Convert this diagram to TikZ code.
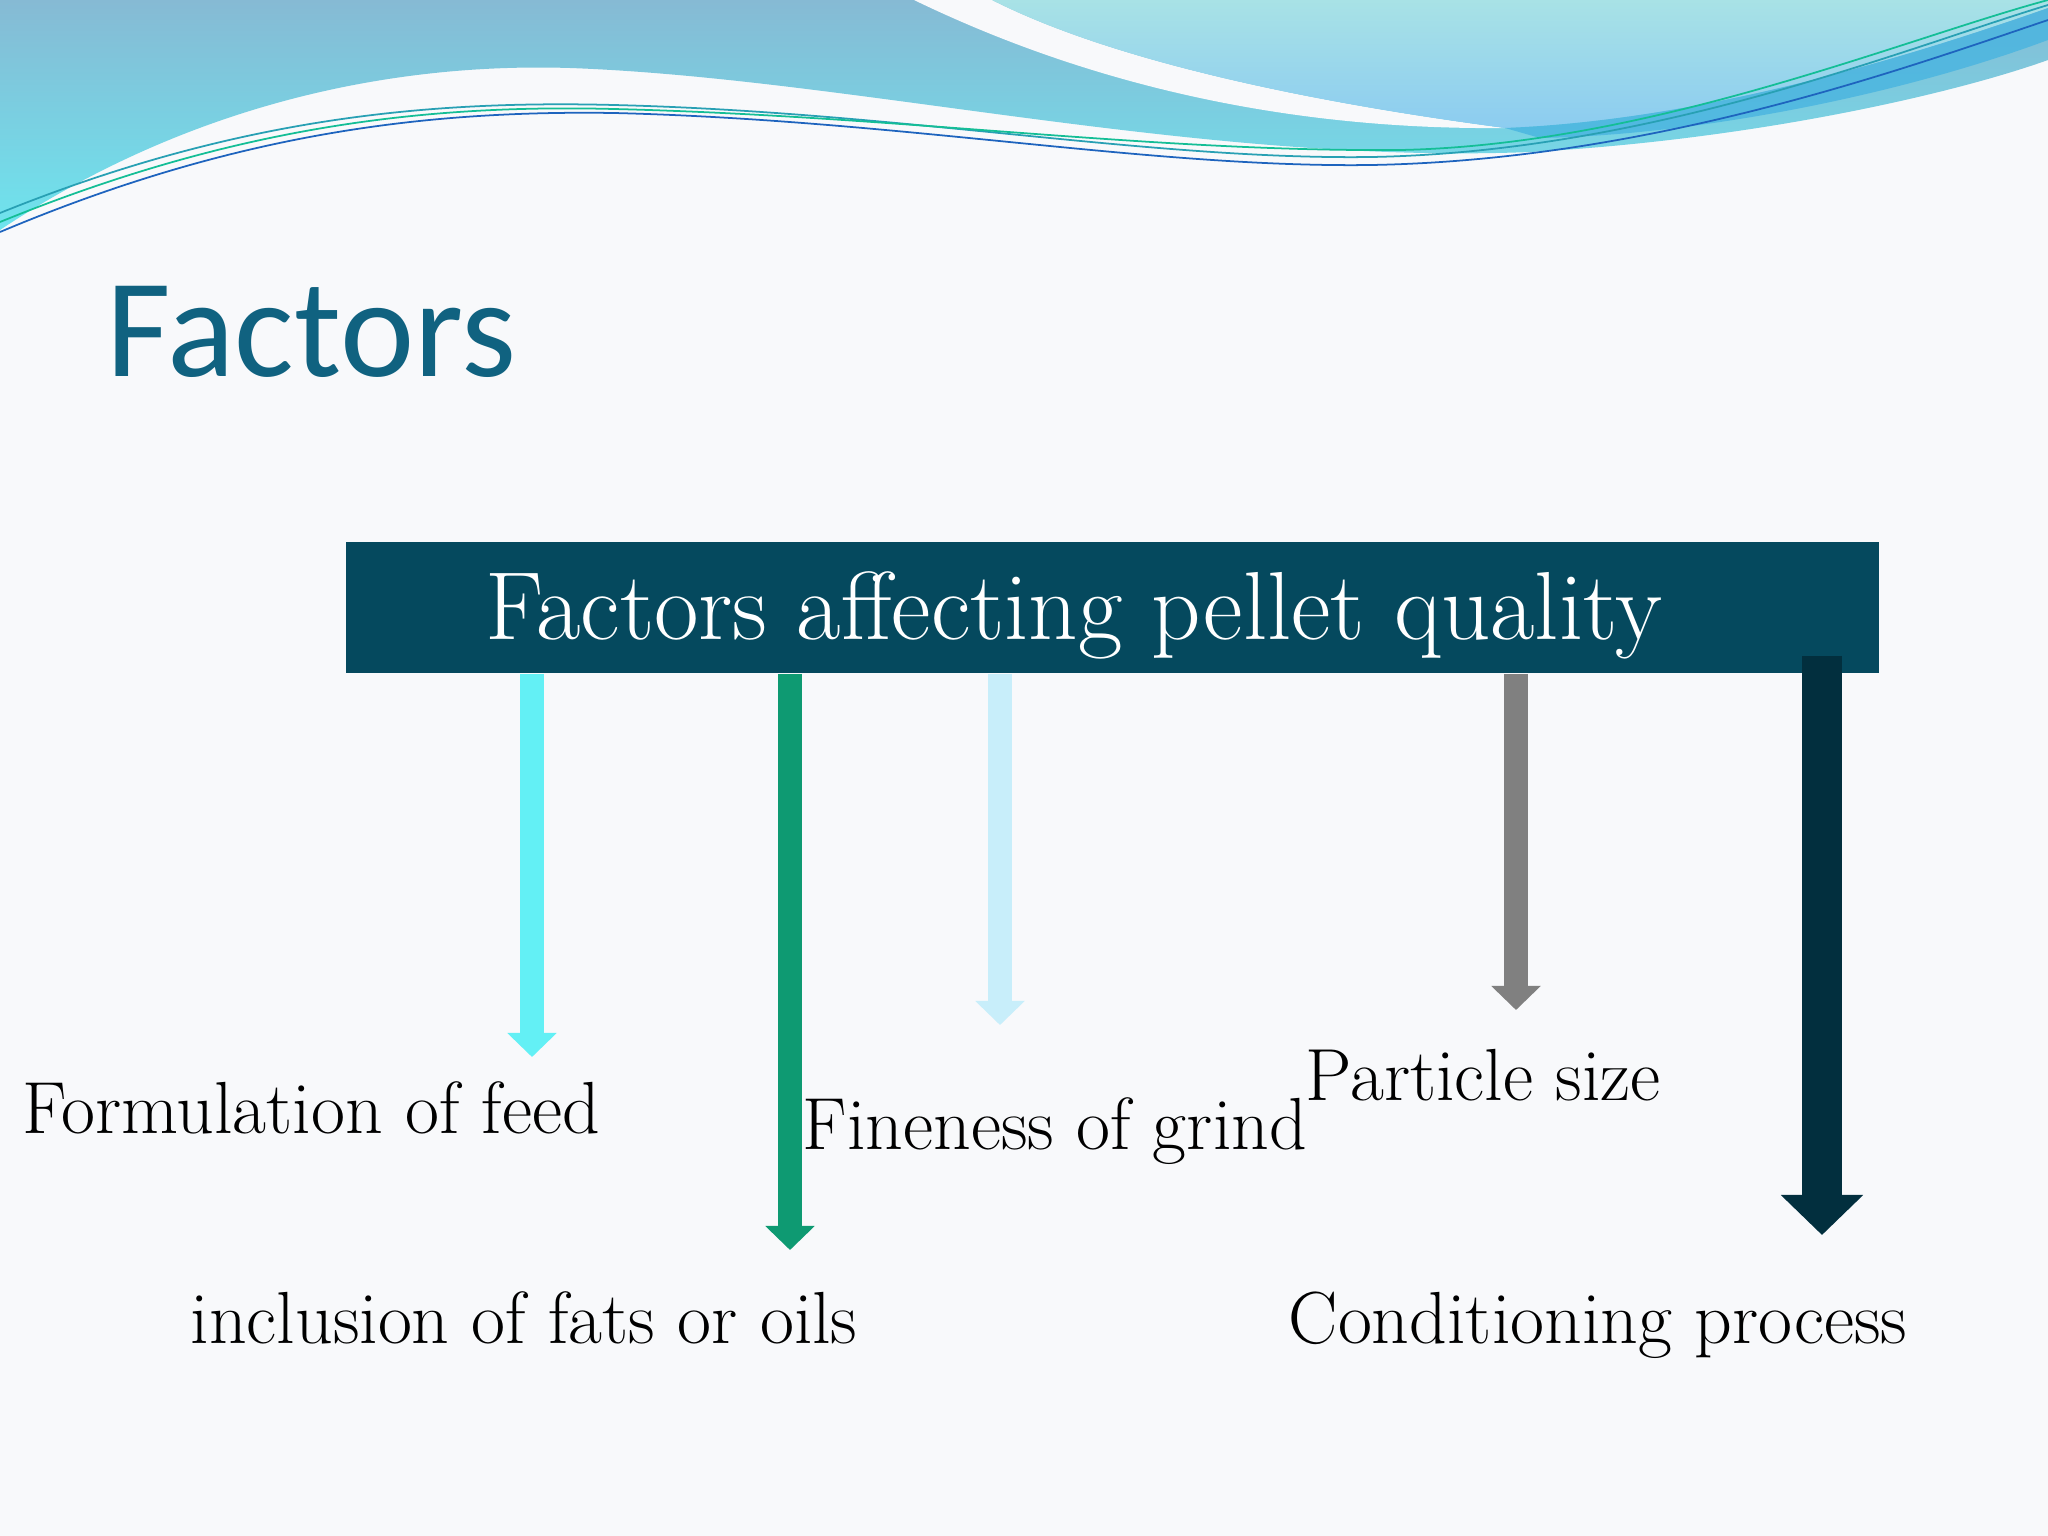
\documentclass[tikz,border=0pt]{standalone}
\usepackage{fontspec}
\newfontfamily\headfont{Carlito}
\usetikzlibrary{arrows.meta,calc,positioning}

\definecolor{slidebg}{RGB}{248,249,251}
\definecolor{headteal}{RGB}{16,98,128}
\definecolor{bannerteal}{RGB}{5,73,94}
\definecolor{feedcyan}{RGB}{99,240,245}
\definecolor{fatgreen}{RGB}{14,154,114}
\definecolor{grindblue}{RGB}{200,238,250}
\definecolor{sizegray}{RGB}{128,128,128}
\definecolor{conddark}{RGB}{2,47,62}
\definecolor{wavetop}{RGB}{134,186,212}
\definecolor{wavebottom}{RGB}{110,228,238}
\definecolor{paletop}{RGB}{168,226,230}
\definecolor{palebottom}{RGB}{140,204,240}
\definecolor{bandblue}{RGB}{72,180,224}
\definecolor{wireteal}{RGB}{40,160,180}
\definecolor{wireblue}{RGB}{30,100,190}
\definecolor{wiregreen}{RGB}{20,190,150}

\begin{document}
\begin{tikzpicture}
          [ x=0.01cm, y=-0.01cm,
            banner/.style={
              rectangle,
              fill=bannerteal,
              minimum width=15.32cm,
              minimum height=1.31cm,
              inner sep=0pt},
            leaf/.style={
              anchor=base west,
              inner sep=0pt,
              font=\fontsize{21}{25}\selectfont},
            flow/.style={
              draw,
              line width=6.83pt,
              -{Triangle[width=13.66pt,length=6.83pt]}},
            bigflow/.style={
              draw,
              line width=11.38pt,
              -{Triangle[width=22.76pt,length=11.38pt]}},
            wire/.style={
              line width=0.5pt},
          ]

          \fill[slidebg] (0,0) rectangle (2048,1536);
          \useasboundingbox (0,0) rectangle (2048,1536);

          \shade[top color=wavetop, bottom color=wavebottom] (0,0) -- (0,230) .. controls (180,110) and (380,62) .. (570,68) .. controls (850,78) and (1200,165) .. (1530,152) .. controls (1750,140) and (1950,95) .. (2048,60) -- (2048,0) -- cycle;
          \fill[slidebg] (914,0) .. controls (1100,90) and (1300,130) .. (1505,128) .. controls (1330,105) and (1120,65) .. (992,0) -- cycle;
          \shade[top color=paletop, bottom color=palebottom] (992,0) .. controls (1120,65) and (1330,105) .. (1505,128) .. controls (1700,120) and (1900,60) .. (2048,8) -- (2048,0) -- cycle;
          \fill[bandblue, opacity=.8] (1505,128) .. controls (1700,120) and (1900,60) .. (2048,8) -- (2048,40) .. controls (1900,95) and (1700,135) .. (1540,138) -- cycle;

          \draw[wire, wireteal] (0,213) .. controls (230,120) and (420,100) .. (614,105) .. controls (900,112) and (1150,160) .. (1371,157) .. controls (1650,152) and (1900,50) .. (2048,5);
          \draw[wire, wireblue] (0,232) .. controls (230,135) and (420,110) .. (614,113) .. controls (900,120) and (1150,168) .. (1371,165) .. controls (1650,160) and (1900,70) .. (2048,20);
          \draw[wire, wiregreen] (0,222) .. controls (230,128) and (420,104) .. (614,109) .. controls (900,116) and (1150,152) .. (1400,150) .. controls (1650,145) and (1900,40) .. (2048,0);

          \node (heading) [font=\headfont\fontsize{40}{46}\selectfont, text=headteal, anchor=base west, inner sep=0pt] at (106,376) {Factors};

          \node (banner) [banner] at (1112.5,607.5) {};
          \node (bannertext) [anchor=base west, inner sep=0pt, text=white, font=\fontsize{27.5}{32}\selectfont] at (485,639) {Factors affecting pellet quality};

          \node (feed) [leaf] at (22,1133) {Formulation of feed};
          \node (fats) [leaf] at (190,1343) {inclusion of fats or oils};
          \node (grind) [leaf] at (802,1149) {Fineness of grind};
          \node (size) [leaf] at (1305,1100) {Particle size};
          \node (cond) [leaf] at (1288,1343) {Conditioning process};

          \coordinate (feedtip) at (532,1057);
          \coordinate (fatstip) at (790,1250);
          \coordinate (grindtip) at (1000,1025);
          \coordinate (sizetip) at (1516,1010);
          \coordinate (condtip) at (1822,1235);

          \draw[flow, feedcyan] (banner.south -| feedtip) -- (feedtip);
          \draw[flow, fatgreen] (banner.south -| fatstip) -- (fatstip);
          \draw[flow, grindblue] (banner.south -| grindtip) -- (grindtip);
          \draw[flow, sizegray] (banner.south -| sizetip) -- (sizetip);
          \draw[bigflow, conddark] ($(banner.south -| condtip)+(0,-18)$) -- (condtip);

        \end{tikzpicture}
\end{document}
